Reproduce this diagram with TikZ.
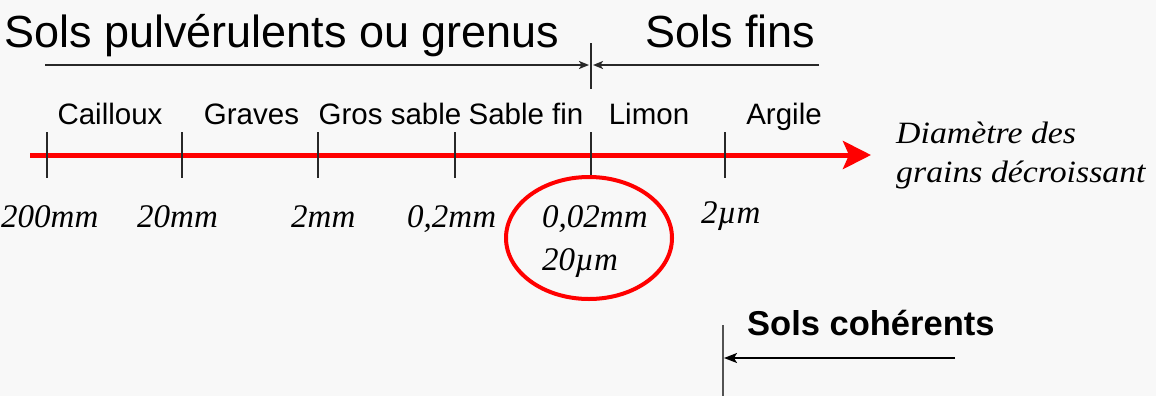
\documentclass[tikz,border=0pt]{standalone}
\usepackage{fontspec}
\usepackage{graphicx}
\setmainfont{Liberation Serif}
\newfontfamily\arialf{Liberation Sans}
\usetikzlibrary{arrows.meta,shapes.geometric}
\definecolor{bgc}{RGB}{248,248,248}
\definecolor{axisred}{RGB}{255,0,0}
\definecolor{linec}{RGB}{40,40,40}
\begin{document}
\begin{tikzpicture}[x=1pt,y=-1pt,
  titletext/.style={anchor=base west, inner sep=0pt, font=\arialf\fontsize{45}{54}\selectfont},
  soiltext/.style={anchor=base, inner sep=0pt, font=\arialf\fontsize{29.5}{35}\selectfont},
  sizetext/.style={anchor=base west, inner sep=0pt, font=\itshape\fontsize{33}{40}\selectfont},
  captext/.style={anchor=base west, inner sep=0pt, font=\itshape\fontsize{31}{37}\selectfont},
  tickline/.style={draw=linec, line width=1.4pt},
  rangearrow/.style={draw=linec, line width=1.6pt, -{Stealth[length=10pt,width=8pt,inset=2.5pt]}},
  axisarrow/.style={draw=axisred, line width=5pt, -{Stealth[length=28pt,width=28pt,inset=6pt]}}
]
\useasboundingbox (0,0) rectangle (1156,405);
\fill[bgc] (0,0) rectangle (1156,396);
\fill[white] (0,396) rectangle (1156,405);

% titles
\node[titletext] (tgren) at (4,47) {Sols pulvérulents ou grenus};
\node[titletext] (tfins) at (645,47) {Sols fins};

% top range arrows
\coordinate (sepu) at (591,43);
\coordinate (sepd) at (591,89);
\draw[tickline] (sepu) -- (sepd);
\coordinate (gl) at (45,65);
\coordinate (gr) at (589,65);
\coordinate (fl) at (593,65);
\coordinate (fr) at (819,65);
\draw[rangearrow] (gl) -- (gr);
\draw[rangearrow] (fr) -- (fl);

% red axis
\coordinate (ax0) at (30,155);
\coordinate (ax1) at (871,155);
\draw[axisarrow] (ax0) -- (ax1);

% ticks
\foreach \i/\x in {1/47,2/182,3/318,4/455,5/591,6/725}{
  \coordinate (t\i u) at (\x,132);
  \coordinate (t\i d) at (\x,178);
  \draw[tickline] (t\i u) -- (t\i d);
}

% soil class labels
\node[soiltext] (cai) at (110,124) {Cailloux};
\node[soiltext] (gra) at (251.5,124) {Graves};
\node[soiltext] (gro) at (390,124) {Gros sable};
\node[soiltext] (sab) at (526,124) {Sable fin};
\node[soiltext] (lim) at (649,124) {Limon};
\node[soiltext] (arg) at (784,124) {Argile};

% sizes
\node[sizetext] (s1) at (1,227) {200mm};
\node[sizetext] (s2) at (137,227) {20mm};
\node[sizetext] (s3) at (291,227) {2mm};
\node[sizetext] (s4) at (407,227) {0,2mm};
\node[sizetext] (s5) at (542,227) {0,02mm};
\node[sizetext] (s5b) at (542,270) {20µm};
\node[sizetext] (s6) at (701,223) {2µm};

% circle
\node[draw=axisred, line width=4pt, ellipse, minimum width=166pt, minimum height=122pt, inner sep=0pt] (circ) at (589,238) {};

% caption
\node[captext] (cap1) at (896,143) {\scalebox{1.09}[1]{Diamètre des}};
\node[captext] (cap2) at (896,182) {\scalebox{1.09}[1]{grains décroissant}};

% sols coherents
\node[anchor=base west, inner sep=0pt, font=\arialf\bfseries\fontsize{34.5}{40}\selectfont] (coh) at (747,335) {Sols cohérents};
\coordinate (cv1) at (723,325);
\coordinate (cv2) at (723,396);
\draw[draw=linec!80, line width=1.4pt] (cv1) -- (cv2);
\coordinate (ca1) at (955,358);
\coordinate (ca2) at (724,358);
\draw[draw=black, line width=1.6pt, -{Stealth[length=13pt,width=10pt,inset=3pt]}] (ca1) -- (ca2);
\end{tikzpicture}
\end{document}
